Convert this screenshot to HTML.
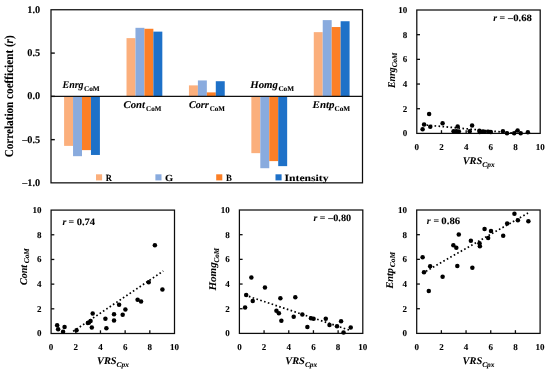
<!DOCTYPE html>
<html><head><meta charset="utf-8"><style>
html,body{margin:0;padding:0;background:#fff;}
svg{display:block;will-change:transform;text-rendering:geometricPrecision;}
text{font-family:"Liberation Serif", serif;fill:#000;stroke:#000;stroke-width:0.08px;}
</style></head><body>
<svg width="550" height="373" viewBox="0 0 550 373">
<rect width="550" height="373" fill="#fff"/>
<rect x="64.10" y="96.37" width="8.95" height="49.51" fill="#FBAF7C"/>
<rect x="73.05" y="96.37" width="8.95" height="59.81" fill="#89ABDE"/>
<rect x="82.00" y="96.37" width="8.95" height="53.75" fill="#FC7F26"/>
<rect x="90.95" y="96.37" width="8.95" height="58.59" fill="#1E71C8"/>
<rect x="126.52" y="38.12" width="8.95" height="58.25" fill="#FBAF7C"/>
<rect x="135.47" y="27.82" width="8.95" height="68.55" fill="#89ABDE"/>
<rect x="144.42" y="28.77" width="8.95" height="67.60" fill="#FC7F26"/>
<rect x="153.37" y="31.63" width="8.95" height="64.74" fill="#1E71C8"/>
<rect x="188.94" y="85.38" width="8.95" height="10.99" fill="#FBAF7C"/>
<rect x="197.89" y="80.44" width="8.95" height="15.93" fill="#89ABDE"/>
<rect x="206.84" y="92.39" width="8.95" height="3.98" fill="#FC7F26"/>
<rect x="215.79" y="81.22" width="8.95" height="15.15" fill="#1E71C8"/>
<rect x="251.36" y="96.37" width="8.95" height="56.78" fill="#FBAF7C"/>
<rect x="260.31" y="96.37" width="8.95" height="71.84" fill="#89ABDE"/>
<rect x="269.26" y="96.37" width="8.95" height="64.74" fill="#FC7F26"/>
<rect x="278.21" y="96.37" width="8.95" height="69.76" fill="#1E71C8"/>
<rect x="313.78" y="32.15" width="8.95" height="64.22" fill="#FBAF7C"/>
<rect x="322.73" y="20.12" width="8.95" height="76.25" fill="#89ABDE"/>
<rect x="331.68" y="27.04" width="8.95" height="69.33" fill="#FC7F26"/>
<rect x="340.63" y="21.24" width="8.95" height="75.13" fill="#1E71C8"/>
<line x1="51.0" y1="96.37" x2="362.5" y2="96.37" stroke="#111" stroke-width="1.4"/>
<rect x="51.0" y="9.75" width="311.5" height="173.1" fill="none" stroke="#0d0d0d" stroke-width="1.25"/>
<line x1="51.0" y1="53.10" x2="54.8" y2="53.10" stroke="#0d0d0d" stroke-width="1.4"/>
<line x1="51.0" y1="96.37" x2="54.8" y2="96.37" stroke="#0d0d0d" stroke-width="1.4"/>
<line x1="51.0" y1="139.65" x2="54.8" y2="139.65" stroke="#0d0d0d" stroke-width="1.4"/>
<text x="40.2" y="12.85" text-anchor="end" font-size="10.3" font-weight="bold">1.0</text>
<text x="40.2" y="56.20" text-anchor="end" font-size="10.3" font-weight="bold">0.5</text>
<text x="40.2" y="99.47" text-anchor="end" font-size="10.3" font-weight="bold">0.0</text>
<text x="40.2" y="142.75" text-anchor="end" font-size="10.3" font-weight="bold">–0.5</text>
<text x="40.2" y="185.95" text-anchor="end" font-size="10.3" font-weight="bold">–1.0</text>
<text transform="translate(13.4,157.3) rotate(-90)" font-size="12.2" font-weight="bold" textLength="122" lengthAdjust="spacingAndGlyphs">Correlation coefficient (<tspan font-style="italic">r</tspan>)</text>
<text x="62.6" y="87.8" font-size="10.4" font-weight="bold" font-style="italic" textLength="21.0" lengthAdjust="spacingAndGlyphs">Enrg</text>
<text x="83.9" y="90.50" font-size="7.3" font-weight="bold" textLength="15.8" lengthAdjust="spacingAndGlyphs">CoM</text>
<text x="123.5" y="107.8" font-size="10.4" font-weight="bold" font-style="italic" textLength="21.5" lengthAdjust="spacingAndGlyphs">Cont</text>
<text x="146.1" y="110.50" font-size="7.3" font-weight="bold" textLength="15.2" lengthAdjust="spacingAndGlyphs">CoM</text>
<text x="189.0" y="107.8" font-size="10.4" font-weight="bold" font-style="italic" textLength="19.8" lengthAdjust="spacingAndGlyphs">Corr</text>
<text x="209.7" y="110.50" font-size="7.3" font-weight="bold" textLength="15.2" lengthAdjust="spacingAndGlyphs">CoM</text>
<text x="250.2" y="87.8" font-size="10.4" font-weight="bold" font-style="italic" textLength="27.8" lengthAdjust="spacingAndGlyphs">Homg</text>
<text x="278.4" y="90.50" font-size="7.3" font-weight="bold" textLength="15.6" lengthAdjust="spacingAndGlyphs">CoM</text>
<text x="312.6" y="108.0" font-size="10.4" font-weight="bold" font-style="italic" textLength="21.9" lengthAdjust="spacingAndGlyphs">Entp</text>
<text x="334.5" y="110.70" font-size="7.3" font-weight="bold" textLength="15.7" lengthAdjust="spacingAndGlyphs">CoM</text>
<rect x="96.0" y="174.3" width="6.1" height="6.1" fill="#FBAF7C"/>
<text x="105.7" y="180.5" font-size="9.4" font-weight="bold" textLength="6.2" lengthAdjust="spacingAndGlyphs">R</text>
<rect x="155.4" y="174.3" width="6.1" height="6.1" fill="#89ABDE"/>
<text x="165.0" y="180.5" font-size="9.4" font-weight="bold" textLength="8.2" lengthAdjust="spacingAndGlyphs">G</text>
<rect x="216.2" y="174.3" width="6.1" height="6.1" fill="#FC7F26"/>
<text x="225.9" y="180.5" font-size="9.4" font-weight="bold" textLength="5.9" lengthAdjust="spacingAndGlyphs">B</text>
<rect x="275.5" y="174.3" width="6.1" height="6.1" fill="#1E71C8"/>
<text x="284.5" y="180.5" font-size="9.4" font-weight="bold" textLength="44.0" lengthAdjust="spacingAndGlyphs">Intensity</text>
<rect x="416.8" y="10.0" width="123.4" height="123.4" fill="none" stroke="#0d0d0d" stroke-width="1.25"/>
<line x1="416.8" y1="108.72" x2="420.0" y2="108.72" stroke="#0d0d0d" stroke-width="1.3"/>
<line x1="441.48" y1="133.4" x2="441.48" y2="130.20000000000002" stroke="#0d0d0d" stroke-width="1.3"/>
<line x1="416.8" y1="84.04" x2="420.0" y2="84.04" stroke="#0d0d0d" stroke-width="1.3"/>
<line x1="466.16" y1="133.4" x2="466.16" y2="130.20000000000002" stroke="#0d0d0d" stroke-width="1.3"/>
<line x1="416.8" y1="59.36" x2="420.0" y2="59.36" stroke="#0d0d0d" stroke-width="1.3"/>
<line x1="490.84" y1="133.4" x2="490.84" y2="130.20000000000002" stroke="#0d0d0d" stroke-width="1.3"/>
<line x1="416.8" y1="34.68" x2="420.0" y2="34.68" stroke="#0d0d0d" stroke-width="1.3"/>
<line x1="515.52" y1="133.4" x2="515.52" y2="130.20000000000002" stroke="#0d0d0d" stroke-width="1.3"/>
<text x="407.20" y="136.30" text-anchor="end" font-size="9" font-weight="bold">0</text>
<text x="416.80" y="149.90" text-anchor="middle" font-size="9" font-weight="bold">0</text>
<text x="407.20" y="111.62" text-anchor="end" font-size="9" font-weight="bold">2</text>
<text x="441.48" y="149.90" text-anchor="middle" font-size="9" font-weight="bold">2</text>
<text x="407.20" y="86.94" text-anchor="end" font-size="9" font-weight="bold">4</text>
<text x="466.16" y="149.90" text-anchor="middle" font-size="9" font-weight="bold">4</text>
<text x="407.20" y="62.26" text-anchor="end" font-size="9" font-weight="bold">6</text>
<text x="490.84" y="149.90" text-anchor="middle" font-size="9" font-weight="bold">6</text>
<text x="407.20" y="37.58" text-anchor="end" font-size="9" font-weight="bold">8</text>
<text x="515.52" y="149.90" text-anchor="middle" font-size="9" font-weight="bold">8</text>
<text x="407.20" y="12.90" text-anchor="end" font-size="9" font-weight="bold">10</text>
<text x="540.20" y="149.90" text-anchor="middle" font-size="9" font-weight="bold">10</text>
<line x1="422.60" y1="124.76" x2="516.75" y2="133.34" stroke="#000" stroke-width="1.7" stroke-dasharray="1.6 2.4"/>
<circle cx="422.60" cy="129.20" r="2.25" fill="#000"/>
<circle cx="424.08" cy="124.52" r="2.25" fill="#000"/>
<circle cx="429.14" cy="114.03" r="2.25" fill="#000"/>
<circle cx="430.25" cy="126.74" r="2.25" fill="#000"/>
<circle cx="442.59" cy="123.16" r="2.25" fill="#000"/>
<circle cx="453.57" cy="131.18" r="2.25" fill="#000"/>
<circle cx="456.29" cy="131.30" r="2.25" fill="#000"/>
<circle cx="457.65" cy="126.61" r="2.25" fill="#000"/>
<circle cx="458.88" cy="131.55" r="2.25" fill="#000"/>
<circle cx="469.74" cy="131.18" r="2.25" fill="#000"/>
<circle cx="472.08" cy="125.50" r="2.25" fill="#000"/>
<circle cx="479.36" cy="130.81" r="2.25" fill="#000"/>
<circle cx="479.73" cy="131.92" r="2.25" fill="#000"/>
<circle cx="482.08" cy="131.67" r="2.25" fill="#000"/>
<circle cx="484.67" cy="131.67" r="2.25" fill="#000"/>
<circle cx="488.37" cy="131.67" r="2.25" fill="#000"/>
<circle cx="490.84" cy="131.92" r="2.25" fill="#000"/>
<circle cx="502.93" cy="131.30" r="2.25" fill="#000"/>
<circle cx="507.01" cy="133.28" r="2.25" fill="#000"/>
<circle cx="514.16" cy="133.28" r="2.25" fill="#000"/>
<circle cx="517.62" cy="130.44" r="2.25" fill="#000"/>
<circle cx="520.70" cy="133.28" r="2.25" fill="#000"/>
<circle cx="527.86" cy="132.17" r="2.25" fill="#000"/>
<text x="462.70" y="163.50" font-size="10.2" font-weight="bold" font-style="italic" textLength="19.6" lengthAdjust="spacingAndGlyphs">VRS</text>
<text x="482.30" y="166.60" font-size="7.3" font-weight="bold" font-style="italic" textLength="12.3" lengthAdjust="spacingAndGlyphs">Cpx</text>
<text transform="translate(394.7,87.9) rotate(-90)" font-size="10.4" font-weight="bold" font-style="italic" textLength="20.4" lengthAdjust="spacingAndGlyphs">Enrg</text>
<text transform="translate(397.0,67.2) rotate(-90)" font-size="7.3" font-weight="bold" font-style="italic" textLength="14.6" lengthAdjust="spacingAndGlyphs">CoM</text>
<text x="493.30" y="21.0" font-size="9.8" font-weight="bold" font-style="italic">r</text>
<text x="499.60" y="21.0" font-size="9.8" font-weight="bold">=</text>
<text x="508.00" y="21.0" font-size="9.8" font-weight="bold" textLength="4.9" lengthAdjust="spacingAndGlyphs">–</text>
<text x="513.15" y="21.0" font-size="9.8" font-weight="bold" textLength="18.80" lengthAdjust="spacingAndGlyphs">0.68</text>
<rect x="51.1" y="210.1" width="123.4" height="123.4" fill="none" stroke="#0d0d0d" stroke-width="1.25"/>
<line x1="51.1" y1="308.82" x2="54.300000000000004" y2="308.82" stroke="#0d0d0d" stroke-width="1.3"/>
<line x1="75.78" y1="333.5" x2="75.78" y2="330.3" stroke="#0d0d0d" stroke-width="1.3"/>
<line x1="51.1" y1="284.14" x2="54.300000000000004" y2="284.14" stroke="#0d0d0d" stroke-width="1.3"/>
<line x1="100.46" y1="333.5" x2="100.46" y2="330.3" stroke="#0d0d0d" stroke-width="1.3"/>
<line x1="51.1" y1="259.46" x2="54.300000000000004" y2="259.46" stroke="#0d0d0d" stroke-width="1.3"/>
<line x1="125.14" y1="333.5" x2="125.14" y2="330.3" stroke="#0d0d0d" stroke-width="1.3"/>
<line x1="51.1" y1="234.78" x2="54.300000000000004" y2="234.78" stroke="#0d0d0d" stroke-width="1.3"/>
<line x1="149.82" y1="333.5" x2="149.82" y2="330.3" stroke="#0d0d0d" stroke-width="1.3"/>
<text x="41.50" y="336.40" text-anchor="end" font-size="9" font-weight="bold">0</text>
<text x="51.10" y="350.00" text-anchor="middle" font-size="9" font-weight="bold">0</text>
<text x="41.50" y="311.72" text-anchor="end" font-size="9" font-weight="bold">2</text>
<text x="75.78" y="350.00" text-anchor="middle" font-size="9" font-weight="bold">2</text>
<text x="41.50" y="287.04" text-anchor="end" font-size="9" font-weight="bold">4</text>
<text x="100.46" y="350.00" text-anchor="middle" font-size="9" font-weight="bold">4</text>
<text x="41.50" y="262.36" text-anchor="end" font-size="9" font-weight="bold">6</text>
<text x="125.14" y="350.00" text-anchor="middle" font-size="9" font-weight="bold">6</text>
<text x="41.50" y="237.68" text-anchor="end" font-size="9" font-weight="bold">8</text>
<text x="149.82" y="350.00" text-anchor="middle" font-size="9" font-weight="bold">8</text>
<text x="41.50" y="213.00" text-anchor="end" font-size="9" font-weight="bold">10</text>
<text x="174.50" y="350.00" text-anchor="middle" font-size="9" font-weight="bold">10</text>
<line x1="73.07" y1="331.40" x2="163.27" y2="271.06" stroke="#000" stroke-width="1.7" stroke-dasharray="1.6 2.4"/>
<circle cx="57.15" cy="325.23" r="2.25" fill="#000"/>
<circle cx="58.13" cy="329.18" r="2.25" fill="#000"/>
<circle cx="63.07" cy="331.65" r="2.25" fill="#000"/>
<circle cx="64.55" cy="326.96" r="2.25" fill="#000"/>
<circle cx="76.52" cy="330.17" r="2.25" fill="#000"/>
<circle cx="87.87" cy="323.01" r="2.25" fill="#000"/>
<circle cx="88.98" cy="322.52" r="2.25" fill="#000"/>
<circle cx="90.59" cy="320.91" r="2.25" fill="#000"/>
<circle cx="92.69" cy="313.39" r="2.25" fill="#000"/>
<circle cx="91.82" cy="327.58" r="2.25" fill="#000"/>
<circle cx="105.40" cy="318.69" r="2.25" fill="#000"/>
<circle cx="106.38" cy="328.32" r="2.25" fill="#000"/>
<circle cx="114.03" cy="314.37" r="2.25" fill="#000"/>
<circle cx="114.03" cy="320.54" r="2.25" fill="#000"/>
<circle cx="119.09" cy="304.87" r="2.25" fill="#000"/>
<circle cx="122.67" cy="314.87" r="2.25" fill="#000"/>
<circle cx="125.39" cy="309.56" r="2.25" fill="#000"/>
<circle cx="137.60" cy="299.81" r="2.25" fill="#000"/>
<circle cx="141.06" cy="301.42" r="2.25" fill="#000"/>
<circle cx="148.71" cy="282.17" r="2.25" fill="#000"/>
<circle cx="162.41" cy="289.45" r="2.25" fill="#000"/>
<circle cx="154.88" cy="245.15" r="2.25" fill="#000"/>
<text x="97.00" y="363.60" font-size="10.2" font-weight="bold" font-style="italic" textLength="19.6" lengthAdjust="spacingAndGlyphs">VRS</text>
<text x="116.60" y="366.70" font-size="7.3" font-weight="bold" font-style="italic" textLength="12.3" lengthAdjust="spacingAndGlyphs">Cpx</text>
<text transform="translate(26.7,284.9) rotate(-90)" font-size="10.4" font-weight="bold" font-style="italic" textLength="20.0" lengthAdjust="spacingAndGlyphs">Cont</text>
<text transform="translate(29.0,263.2) rotate(-90)" font-size="7.3" font-weight="bold" font-style="italic" textLength="14.9" lengthAdjust="spacingAndGlyphs">CoM</text>
<text x="62.50" y="224.9" font-size="9.8" font-weight="bold" font-style="italic">r</text>
<text x="68.60" y="224.9" font-size="9.8" font-weight="bold">=</text>
<text x="76.65" y="224.9" font-size="9.8" font-weight="bold" textLength="18.50" lengthAdjust="spacingAndGlyphs">0.74</text>
<rect x="239.4" y="210.0" width="123.4" height="123.4" fill="none" stroke="#0d0d0d" stroke-width="1.25"/>
<line x1="239.4" y1="308.72" x2="242.6" y2="308.72" stroke="#0d0d0d" stroke-width="1.3"/>
<line x1="264.08" y1="333.4" x2="264.08" y2="330.2" stroke="#0d0d0d" stroke-width="1.3"/>
<line x1="239.4" y1="284.04" x2="242.6" y2="284.04" stroke="#0d0d0d" stroke-width="1.3"/>
<line x1="288.76" y1="333.4" x2="288.76" y2="330.2" stroke="#0d0d0d" stroke-width="1.3"/>
<line x1="239.4" y1="259.36" x2="242.6" y2="259.36" stroke="#0d0d0d" stroke-width="1.3"/>
<line x1="313.44" y1="333.4" x2="313.44" y2="330.2" stroke="#0d0d0d" stroke-width="1.3"/>
<line x1="239.4" y1="234.68" x2="242.6" y2="234.68" stroke="#0d0d0d" stroke-width="1.3"/>
<line x1="338.12" y1="333.4" x2="338.12" y2="330.2" stroke="#0d0d0d" stroke-width="1.3"/>
<text x="229.80" y="336.30" text-anchor="end" font-size="9" font-weight="bold">0</text>
<text x="239.40" y="349.90" text-anchor="middle" font-size="9" font-weight="bold">0</text>
<text x="229.80" y="311.62" text-anchor="end" font-size="9" font-weight="bold">2</text>
<text x="264.08" y="349.90" text-anchor="middle" font-size="9" font-weight="bold">2</text>
<text x="229.80" y="286.94" text-anchor="end" font-size="9" font-weight="bold">4</text>
<text x="288.76" y="349.90" text-anchor="middle" font-size="9" font-weight="bold">4</text>
<text x="229.80" y="262.26" text-anchor="end" font-size="9" font-weight="bold">6</text>
<text x="313.44" y="349.90" text-anchor="middle" font-size="9" font-weight="bold">6</text>
<text x="229.80" y="237.58" text-anchor="end" font-size="9" font-weight="bold">8</text>
<text x="338.12" y="349.90" text-anchor="middle" font-size="9" font-weight="bold">8</text>
<text x="229.80" y="212.90" text-anchor="end" font-size="9" font-weight="bold">10</text>
<text x="362.80" y="349.90" text-anchor="middle" font-size="9" font-weight="bold">10</text>
<line x1="245.08" y1="295.15" x2="350.71" y2="330.56" stroke="#000" stroke-width="1.7" stroke-dasharray="1.6 2.4"/>
<circle cx="245.08" cy="307.49" r="2.25" fill="#000"/>
<circle cx="246.19" cy="294.90" r="2.25" fill="#000"/>
<circle cx="251.37" cy="277.38" r="2.25" fill="#000"/>
<circle cx="252.73" cy="300.95" r="2.25" fill="#000"/>
<circle cx="264.94" cy="287.62" r="2.25" fill="#000"/>
<circle cx="276.42" cy="310.82" r="2.25" fill="#000"/>
<circle cx="278.89" cy="313.29" r="2.25" fill="#000"/>
<circle cx="280.37" cy="298.23" r="2.25" fill="#000"/>
<circle cx="281.36" cy="320.81" r="2.25" fill="#000"/>
<circle cx="293.70" cy="316.74" r="2.25" fill="#000"/>
<circle cx="295.30" cy="297.24" r="2.25" fill="#000"/>
<circle cx="302.33" cy="314.52" r="2.25" fill="#000"/>
<circle cx="307.39" cy="326.98" r="2.25" fill="#000"/>
<circle cx="310.97" cy="318.22" r="2.25" fill="#000"/>
<circle cx="313.56" cy="318.84" r="2.25" fill="#000"/>
<circle cx="325.78" cy="318.84" r="2.25" fill="#000"/>
<circle cx="329.48" cy="325.01" r="2.25" fill="#000"/>
<circle cx="337.01" cy="326.37" r="2.25" fill="#000"/>
<circle cx="341.08" cy="321.31" r="2.25" fill="#000"/>
<circle cx="343.55" cy="332.54" r="2.25" fill="#000"/>
<circle cx="350.71" cy="327.48" r="2.25" fill="#000"/>
<text x="285.30" y="363.50" font-size="10.2" font-weight="bold" font-style="italic" textLength="19.6" lengthAdjust="spacingAndGlyphs">VRS</text>
<text x="304.90" y="366.60" font-size="7.3" font-weight="bold" font-style="italic" textLength="12.3" lengthAdjust="spacingAndGlyphs">Cpx</text>
<text transform="translate(216.3,290.6) rotate(-90)" font-size="10.4" font-weight="bold" font-style="italic" textLength="28.3" lengthAdjust="spacingAndGlyphs">Homg</text>
<text transform="translate(218.6,262.5) rotate(-90)" font-size="7.3" font-weight="bold" font-style="italic" textLength="14.5" lengthAdjust="spacingAndGlyphs">CoM</text>
<text x="313.40" y="220.6" font-size="9.8" font-weight="bold" font-style="italic">r</text>
<text x="319.80" y="220.6" font-size="9.8" font-weight="bold">=</text>
<text x="328.20" y="220.6" font-size="9.8" font-weight="bold" textLength="4.9" lengthAdjust="spacingAndGlyphs">–</text>
<text x="333.25" y="220.6" font-size="9.8" font-weight="bold" textLength="17.90" lengthAdjust="spacingAndGlyphs">0.80</text>
<rect x="416.7" y="210.0" width="123.4" height="123.4" fill="none" stroke="#0d0d0d" stroke-width="1.25"/>
<line x1="416.7" y1="308.72" x2="419.9" y2="308.72" stroke="#0d0d0d" stroke-width="1.3"/>
<line x1="441.38" y1="333.4" x2="441.38" y2="330.2" stroke="#0d0d0d" stroke-width="1.3"/>
<line x1="416.7" y1="284.04" x2="419.9" y2="284.04" stroke="#0d0d0d" stroke-width="1.3"/>
<line x1="466.06" y1="333.4" x2="466.06" y2="330.2" stroke="#0d0d0d" stroke-width="1.3"/>
<line x1="416.7" y1="259.36" x2="419.9" y2="259.36" stroke="#0d0d0d" stroke-width="1.3"/>
<line x1="490.74" y1="333.4" x2="490.74" y2="330.2" stroke="#0d0d0d" stroke-width="1.3"/>
<line x1="416.7" y1="234.68" x2="419.9" y2="234.68" stroke="#0d0d0d" stroke-width="1.3"/>
<line x1="515.42" y1="333.4" x2="515.42" y2="330.2" stroke="#0d0d0d" stroke-width="1.3"/>
<text x="407.10" y="336.30" text-anchor="end" font-size="9" font-weight="bold">0</text>
<text x="416.70" y="349.90" text-anchor="middle" font-size="9" font-weight="bold">0</text>
<text x="407.10" y="311.62" text-anchor="end" font-size="9" font-weight="bold">2</text>
<text x="441.38" y="349.90" text-anchor="middle" font-size="9" font-weight="bold">2</text>
<text x="407.10" y="286.94" text-anchor="end" font-size="9" font-weight="bold">4</text>
<text x="466.06" y="349.90" text-anchor="middle" font-size="9" font-weight="bold">4</text>
<text x="407.10" y="262.26" text-anchor="end" font-size="9" font-weight="bold">6</text>
<text x="490.74" y="349.90" text-anchor="middle" font-size="9" font-weight="bold">6</text>
<text x="407.10" y="237.58" text-anchor="end" font-size="9" font-weight="bold">8</text>
<text x="515.42" y="349.90" text-anchor="middle" font-size="9" font-weight="bold">8</text>
<text x="407.10" y="212.90" text-anchor="end" font-size="9" font-weight="bold">10</text>
<text x="540.10" y="349.90" text-anchor="middle" font-size="9" font-weight="bold">10</text>
<line x1="422.50" y1="273.18" x2="528.01" y2="213.08" stroke="#000" stroke-width="1.7" stroke-dasharray="1.6 2.4"/>
<circle cx="422.62" cy="257.14" r="2.25" fill="#000"/>
<circle cx="423.98" cy="272.32" r="2.25" fill="#000"/>
<circle cx="428.79" cy="291.07" r="2.25" fill="#000"/>
<circle cx="430.15" cy="266.27" r="2.25" fill="#000"/>
<circle cx="442.61" cy="276.76" r="2.25" fill="#000"/>
<circle cx="453.35" cy="245.17" r="2.25" fill="#000"/>
<circle cx="456.31" cy="247.76" r="2.25" fill="#000"/>
<circle cx="457.30" cy="265.90" r="2.25" fill="#000"/>
<circle cx="458.78" cy="234.56" r="2.25" fill="#000"/>
<circle cx="470.87" cy="240.73" r="2.25" fill="#000"/>
<circle cx="472.35" cy="267.63" r="2.25" fill="#000"/>
<circle cx="479.51" cy="243.32" r="2.25" fill="#000"/>
<circle cx="479.88" cy="246.16" r="2.25" fill="#000"/>
<circle cx="484.57" cy="228.88" r="2.25" fill="#000"/>
<circle cx="488.15" cy="237.89" r="2.25" fill="#000"/>
<circle cx="490.99" cy="230.98" r="2.25" fill="#000"/>
<circle cx="503.20" cy="235.79" r="2.25" fill="#000"/>
<circle cx="507.15" cy="223.45" r="2.25" fill="#000"/>
<circle cx="514.43" cy="213.83" r="2.25" fill="#000"/>
<circle cx="517.89" cy="220.24" r="2.25" fill="#000"/>
<circle cx="528.38" cy="221.35" r="2.25" fill="#000"/>
<text x="462.60" y="363.50" font-size="10.2" font-weight="bold" font-style="italic" textLength="19.6" lengthAdjust="spacingAndGlyphs">VRS</text>
<text x="482.20" y="366.60" font-size="7.3" font-weight="bold" font-style="italic" textLength="12.3" lengthAdjust="spacingAndGlyphs">Cpx</text>
<text transform="translate(393.0,288.5) rotate(-90)" font-size="10.4" font-weight="bold" font-style="italic" textLength="20.5" lengthAdjust="spacingAndGlyphs">Entp</text>
<text transform="translate(395.3,267.2) rotate(-90)" font-size="7.3" font-weight="bold" font-style="italic" textLength="15.2" lengthAdjust="spacingAndGlyphs">CoM</text>
<text x="426.80" y="224.1" font-size="9.8" font-weight="bold" font-style="italic">r</text>
<text x="433.60" y="224.1" font-size="9.8" font-weight="bold">=</text>
<text x="441.35" y="224.1" font-size="9.8" font-weight="bold" textLength="18.80" lengthAdjust="spacingAndGlyphs">0.86</text>
</svg>
</body></html>
